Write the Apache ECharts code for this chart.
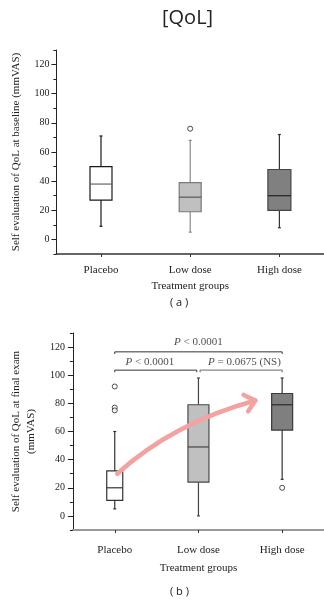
<!DOCTYPE html>
<html><head><meta charset="utf-8">
<script src="https://cdn.jsdelivr.net/npm/echarts@6/dist/echarts.min.js"></script>
<style>html,body{margin:0;padding:0;background:#fff}#c{width:324px;height:602px}</style>
</head><body><div id="c"></div>
<script>
// ---------- data ----------
const categories = ['Placebo', 'Low dose', 'High dose'];
const yTicks = [0, 20, 40, 60, 80, 100, 120];
// [min, Q1, median, Q3, max]
const baselinePlacebo = [9, 27, 38, 50, 71];
const baselineLow = [5, 19, 29, 39, 68];
const baselineHigh = [8, 20, 30, 48, 72];
const baselineOutliers = [[1, 76]];
const finalPlacebo = [5, 11, 20, 32, 60];
const finalLow = [0, 24, 49, 79, 98];
const finalHigh = [26, 61, 79, 87, 98];
const finalOutliers = [[0, 92], [0, 77], [0, 75], [2, 20]];
const pTexts = ['P < 0.0001', 'P < 0.0001', 'P = 0.0675 (NS)'];
const pTextAt = [[1, 123.7], [0.42, 109], [1.55, 109]];
// brackets [xStart, xEnd, y]
const bracketTop = [0, 2, 116.6];
const bracketLeft = [0, 0.98, 103.6];
const bracketRight = [1.02, 2, 103.6];
// arrow: start, control, end (data coords)
const arrowPath = [0.03, 30, 0.70, 66, 1.68, 82];

// ---------- styles ----------
const SERIF = '"Liberation Serif", "DejaVu Serif", serif';
const SANS = '"Open Sans", "Noto Sans", sans-serif';
const stylesA = [
  {width: 22, fill: '#ffffff', border: '#1a1a1a', whisker: '#1a1a1a', median: '#666666'},
  {width: 22, fill: '#c0c0c0', border: '#7a7a7a', whisker: '#8a8a8a', median: '#555555'},
  {width: 23, fill: '#808080', border: '#444444', whisker: '#333333', median: '#222222'}
];
const stylesB = [
  {width: 16, fill: '#ffffff', border: '#333333', whisker: '#333333', median: '#333333'},
  {width: 21, fill: '#c0c0c0', border: '#4a4a4a', whisker: '#444444', median: '#444444'},
  {width: 21, fill: '#7f7f7f', border: '#3a3a3a', whisker: '#333333', median: '#2a2a2a'}
];

function boxRender(styles) {
  return function (params, api) {
    const idx = api.value(0);
    const st = styles[idx];
    const bw = st.width;
    const x = api.coord([idx, 0])[0];
    const y = i => api.coord([idx, api.value(i)])[1];
    const yMin = y(1), yQ1 = y(2), yMed = y(3), yQ3 = y(4), yMax = y(5);
    const cap = 1.5;
    const ls = {stroke: st.whisker, lineWidth: 1.2};
    return {type: 'group', children: [
      {type: 'line', shape: {x1: x, y1: yMax, x2: x, y2: yQ3}, style: ls},
      {type: 'line', shape: {x1: x, y1: yQ1, x2: x, y2: yMin}, style: ls},
      {type: 'line', shape: {x1: x - cap, y1: yMax, x2: x + cap, y2: yMax}, style: ls},
      {type: 'line', shape: {x1: x - cap, y1: yMin, x2: x + cap, y2: yMin}, style: ls},
      {type: 'rect', shape: {x: x - bw / 2, y: yQ3, width: bw, height: yQ1 - yQ3},
        style: {fill: st.fill, stroke: st.border, lineWidth: 1.2}},
      {type: 'line', shape: {x1: x - bw / 2, y1: yMed, x2: x + bw / 2, y2: yMed},
        style: {stroke: st.median, lineWidth: 1.2}}
    ]};
  };
}

function arrowRender(params, api) {
  const p0 = api.coord([api.value(0), api.value(1)]);
  const pc = api.coord([api.value(2), api.value(3)]);
  const p1 = api.coord([api.value(4), api.value(5)]);
  const ang = Math.atan2(p1[1] - pc[1], p1[0] - pc[0]);
  const L = 13, a = 41 * Math.PI / 180;
  const w1 = [p1[0] - L * Math.cos(ang - a), p1[1] - L * Math.sin(ang - a)];
  const w2 = [p1[0] - L * Math.cos(ang + a), p1[1] - L * Math.sin(ang + a)];
  const col = '#f3a2a2';
  return {type: 'group', children: [
    {type: 'bezierCurve', shape: {x1: p0[0], y1: p0[1], cpx1: pc[0], cpy1: pc[1], x2: p1[0], y2: p1[1]},
      style: {stroke: col, lineWidth: 4.5, fill: null, lineCap: 'round'}},
    {type: 'polyline', shape: {points: [w1, p1, w2]},
      style: {stroke: col, lineWidth: 4.5, fill: null, lineCap: 'round', lineJoin: 'round'}}
  ]};
}

function bracketData(b) {
  return [[b[0], b[2] - 1.5], [b[0], b[2]], [b[1], b[2]], [b[1], b[2] - 1.5]];
}

function mainY(gridIndex, name, nameGap, labelMargin) {
  return {
    gridIndex, type: 'value', min: -10, max: 130, position: 'left',
    axisLine: {show: true, onZero: false, lineStyle: {color: '#222', width: 1}},
    axisTick: {show: true, customValues: yTicks, length: 5, lineStyle: {color: '#222'}},
    axisLabel: {customValues: yTicks, fontSize: 10, fontFamily: SERIF, color: '#222', margin: labelMargin},
    splitLine: {show: false},
    name, nameLocation: 'middle', nameGap,
    nameTextStyle: {fontSize: 11, fontFamily: SERIF, color: '#222', lineHeight: 15.5}
  };
}
function minorY(gridIndex) {
  return {
    gridIndex, type: 'value', min: -10, max: 130, interval: 10, position: 'left',
    axisLine: {show: false, onZero: false},
    axisTick: {show: true, length: 3, lineStyle: {color: '#222'}},
    axisLabel: {show: false}, splitLine: {show: false}
  };
}
function catX(gridIndex, lineColor, lineWidth, margin, nameGap) {
  return {
    gridIndex, type: 'category', data: categories, boundaryGap: true,
    axisLine: {show: true, onZero: false, lineStyle: {color: lineColor, width: lineWidth}},
    axisTick: {show: true, alignWithLabel: true, length: 3, lineStyle: {color: '#333'}},
    axisLabel: {fontSize: 11, fontFamily: SERIF, color: '#222', margin},
    splitLine: {show: false},
    name: 'Treatment groups', nameLocation: 'middle', nameGap,
    nameTextStyle: {fontSize: 11, fontFamily: SERIF, color: '#222'}
  };
}

const chart = echarts.init(document.getElementById('c'), null, {renderer: 'canvas'});
chart.setOption({
  animation: false,
  backgroundColor: '#fff',
  grid: [
    {left: 52, top: 50, width: 279, height: 204},
    {left: 61, top: 333, width: 267, height: 197}
  ],
  xAxis: [
    catX(0, '#333', 1.5, 11, 27),
    catX(1, '#999', 2, 15, 33),
    {gridIndex: 1, type: 'value', min: -0.5, max: 2.5, show: false, axisLine: {onZero: false}}
  ],
  yAxis: [
    mainY(0, 'Self evaluation of QoL at baseline (mmVAS)', 31, 7),
    minorY(0),
    mainY(1, 'Self evaluation of QoL at final exam\n(mmVAS)', 26, 8),
    minorY(1)
  ],
  graphic: [
    {type: 'text', left: 162, top: 8, style: {text: '[QoL]', font: '20px ' + SANS, fill: '#222'}},
    {type: 'text', left: 170, top: 297, style: {text: '( a )', font: '11px ' + SANS, fill: '#222'}},
    {type: 'text', left: 170, top: 586, style: {text: '( b )', font: '11px ' + SANS, fill: '#222'}}
  ],
  series: [
    {type: 'custom', xAxisIndex: 0, yAxisIndex: 0, z: 2, renderItem: boxRender(stylesA),
      encode: {x: 0, y: [1, 2, 3, 4, 5]},
      data: [[0, ...baselinePlacebo], [1, ...baselineLow], [2, ...baselineHigh]]},
    {type: 'scatter', xAxisIndex: 0, yAxisIndex: 0, z: 3, symbol: 'circle', symbolSize: 5,
      itemStyle: {color: '#fff', borderColor: '#222', borderWidth: 1}, data: baselineOutliers},
    {type: 'custom', xAxisIndex: 1, yAxisIndex: 2, z: 2, renderItem: boxRender(stylesB),
      encode: {x: 0, y: [1, 2, 3, 4, 5]},
      data: [[0, ...finalPlacebo], [1, ...finalLow], [2, ...finalHigh]]},
    {type: 'scatter', xAxisIndex: 1, yAxisIndex: 2, z: 3, symbol: 'circle', symbolSize: 5,
      itemStyle: {color: '#fff', borderColor: '#222', borderWidth: 1}, data: finalOutliers},
    {type: 'line', xAxisIndex: 2, yAxisIndex: 2, symbol: 'none', z: 3,
      lineStyle: {color: '#333', width: 1}, data: bracketData(bracketTop)},
    {type: 'line', xAxisIndex: 2, yAxisIndex: 2, symbol: 'none', z: 3,
      lineStyle: {color: '#333', width: 1}, data: bracketData(bracketLeft)},
    {type: 'line', xAxisIndex: 2, yAxisIndex: 2, symbol: 'none', z: 3,
      lineStyle: {color: '#888', width: 1.4}, data: bracketData(bracketRight)},
    {type: 'scatter', xAxisIndex: 2, yAxisIndex: 2, z: 4, symbolSize: 1,
      itemStyle: {color: 'rgba(0,0,0,0)'},
      label: {show: true, position: 'inside', color: '#222',
        formatter: p => '{i|' + p.name[0] + '}{n|' + p.name.slice(1) + '}',
        rich: {
          i: {fontFamily: SERIF, fontSize: 11, fontStyle: 'italic', color: '#222'},
          n: {fontFamily: SERIF, fontSize: 11, color: '#222'}
        }},
      data: pTexts.map((t, i) => ({name: t, value: pTextAt[i]}))},
    {type: 'custom', xAxisIndex: 2, yAxisIndex: 2, z: 6, renderItem: arrowRender,
      encode: {x: [0, 2, 4], y: [1, 3, 5]}, data: [arrowPath]}
  ]
});
</script>
</body></html>
